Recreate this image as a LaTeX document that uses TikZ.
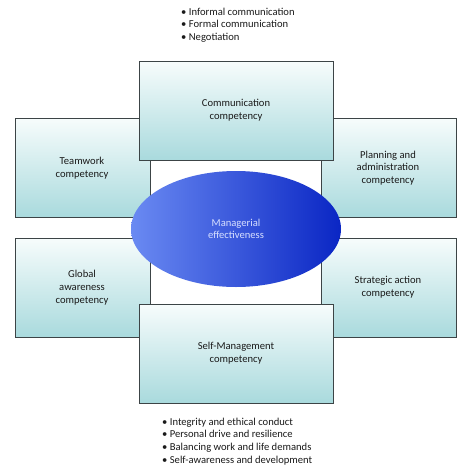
\documentclass[tikz,border=0pt]{standalone}
\usepackage{fontspec}
\setmainfont{Carlito}
\usetikzlibrary{shapes.geometric}
\definecolor{boxtop}{HTML}{F7FCFC}
\definecolor{boxbot}{HTML}{A9DADD}
\definecolor{boxline}{HTML}{3C4446}
\definecolor{elleft}{HTML}{6A8AF2}
\definecolor{elright}{HTML}{0A26C4}
\definecolor{eltext}{HTML}{D8E0FF}
\definecolor{txt}{HTML}{1A1A1A}
\tikzset{
  compbox/.style={draw=boxline, line width=0.9pt, top color=boxtop, bottom color=boxbot,
    minimum width=#1, inner sep=0pt, font=\fontsize{10.6}{12.7}\selectfont, text=txt, align=center},
  lbl/.style={font=\fontsize{10.6}{12.7}\selectfont, text=txt, align=left, inner sep=0pt},
}
\begin{document}
\begin{tikzpicture}[x=1pt,y=-1pt]
\useasboundingbox (0,0) rectangle (474,474);
\fill[white] (0,0) rectangle (474,474);
% side boxes
\node[compbox=135pt, minimum height=99pt] (team) at (82.5,167.5) {};
\node[compbox=135pt, minimum height=99pt] (plan) at (388.5,167.5) {};
\node[compbox=135pt, minimum height=99pt] (glob) at (82.5,287.5) {};
\node[compbox=135pt, minimum height=99pt] (strat) at (388.5,287.5) {};
% labels of side boxes
\node[lbl, align=center] (teamt) at (82,168) {Teamwork\\competency};
\node[lbl, align=center] (plant) at (388,168) {Planning and\\administration\\competency};
\node[lbl, align=center] (globt) at (82,287.5) {Global\\awareness\\competency};
\node[lbl, align=center] (stratt) at (388,287.5) {Strategic action\\competency};
% central ellipse
\node[ellipse, draw=none, left color=elleft, right color=elright, minimum width=210pt, minimum height=116pt,
  font=\fontsize{10.6}{12.7}\selectfont, text=eltext, align=center] (mgr) at (236,229) {Managerial\\effectiveness};
% top and bottom boxes
\node[compbox=194pt, minimum height=99pt] (comm) at (236,110.5) {Communication\\competency};
\node[compbox=194pt, minimum height=99pt] (self) at (236,353.5) {Self-Management\\competency};
% bullet lists
\node[lbl, anchor=north west] (toplist) at (181,7.5) {• Informal communication\\• Formal communication\\• Negotiation};
\node[lbl, anchor=north west] (botlist) at (162,417.5) {• Integrity and ethical conduct\\• Personal drive and resilience\\• Balancing work and life demands\\• Self-awareness and development};
\end{tikzpicture}
\end{document}
